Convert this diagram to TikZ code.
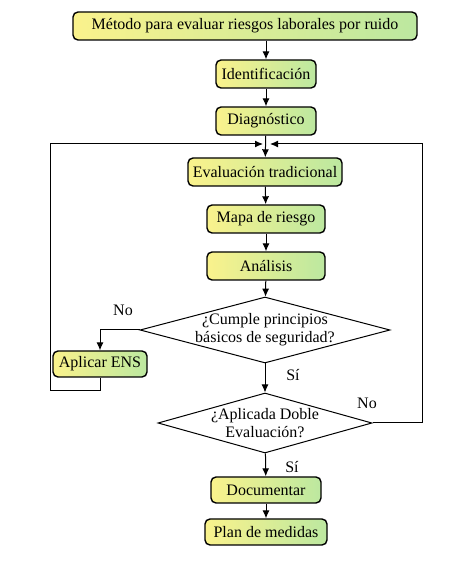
\documentclass[tikz,border=0pt]{standalone}
\usepackage{fontspec}
\setmainfont{Liberation Serif}
\usepackage{tikz}
\usetikzlibrary{shapes.geometric, arrows.meta}
\definecolor{boxyellow}{RGB}{250,242,140}
\definecolor{boxgreen}{RGB}{188,232,160}
\tikzstyle{block} = [rectangle, draw, line width=1.4pt, text centered, rounded corners=5pt, left color=boxyellow, right color=boxgreen, minimum height=28pt, inner sep=2pt]
\tikzstyle{decision} = [diamond, draw, line width=1pt, fill=white, text centered, align=center, inner sep=-10pt]
\tikzstyle{line} = [draw, line width=1pt, -{Latex[length=8pt, width=7pt]}]
\tikzstyle{lbl} = [font=\fontsize{16}{19}\selectfont]

\begin{document}
\begin{tikzpicture}[x=1pt, y=1pt, font=\fontsize{16}{18}\selectfont]
    \useasboundingbox (0,0) rectangle (474,566);
    \node [block, minimum width=344pt] (init) at (245,540) {Método para evaluar riesgos laborales por ruido};
    \node [block, minimum width=100pt] (ident) at (266,492) {Identificación};
    \node [block, minimum width=100pt] (diag) at (266,445) {Diagnóstico};
    \node [block, minimum width=154pt] (eval) at (265,394) {Evaluación tradicional};
    \node [block, minimum width=118pt] (mapa) at (266,347) {Mapa de riesgo};
    \node [block, minimum width=118pt] (anal) at (266,300) {Análisis};
    \node [decision, minimum width=250pt, minimum height=66pt, aspect=3.8] (check1) at (265,236) {¿Cumple principios\\básicos de seguridad?};
    \node [block, minimum width=94pt, minimum height=26pt] (ens) at (100,202) {Aplicar ENS};
    \node [decision, minimum width=214pt, minimum height=60pt, aspect=3.57] (check2) at (265,143) {¿Aplicada Doble\\Evaluación?};
    \node [block, minimum width=110pt, minimum height=26pt] (doc) at (266,76) {Documentar};
    \node [block, minimum width=122pt, minimum height=26pt] (end) at (266,34) {Plan de medidas};

    \coordinate (leftin) at (263,422);
    \coordinate (rightin) at (270,422);

    \path [line] (init.south -| ident) -- (ident);
    \path [line] (ident) -- (diag);
    \path [line] (diag) -- (eval);
    \path [line] (eval) -- (mapa);
    \path [line] (mapa) -- (anal);
    \path [line] (anal) -- (check1);
    \path [line] (check1.west) -| (ens.north);
    \path [line] (ens.south) -- ++(0,-13) -| (50,422) -- (leftin);
    \path [line] (check1) -- (check2);
    \path [line] (check2.east) -| (422,422) -- (rightin);
    \path [line] (check2) -- (doc);
    \path [line] (doc) -- (end);

    \node [lbl] (no1) at (123,256) {No};
    \node [lbl] (si1) at (293,191) {Sí};
    \node [lbl] (no2) at (367,163) {No};
    \node [lbl] (si2) at (292,99) {Sí};
\end{tikzpicture}
\end{document}
